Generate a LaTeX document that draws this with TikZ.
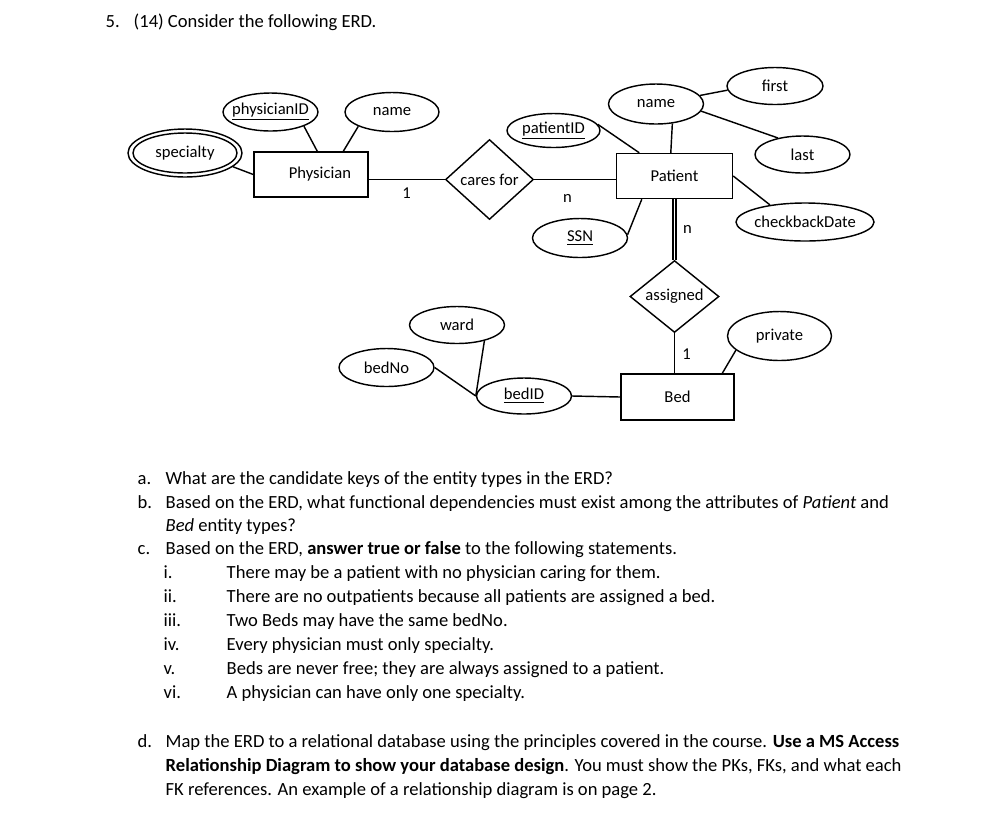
\documentclass[tikz,border=0pt]{standalone}
\usepackage{fontspec}
\setmainfont{Carlito}
\usetikzlibrary{shapes.geometric,calc}
\begin{document}
\begin{tikzpicture}[x=0.56pt,y=-0.56pt,line width=0.8pt,
  font=\fontsize{9.3}{11}\selectfont,
  attr/.style n args={3}{ellipse, draw, inner sep=0pt, minimum width=#1*0.56pt, minimum height=#2*0.56pt, label={center:#3}},
  ent/.style n args={3}{rectangle, draw, inner sep=0pt, minimum width=#1*0.56pt, minimum height=#2*0.56pt, label={center:#3}},
  rel/.style n args={3}{diamond, draw, inner sep=0pt, minimum width=#1*0.56pt, minimum height=#2*0.56pt, label={center:#3}},
  card/.style={inner sep=0pt},
  qtext/.style={anchor=base west, inner sep=0pt, font=\fontsize{10.4}{12.6}\selectfont},
  dbl/.style={double, double distance=1.1pt, line width=0.7pt}
]
\useasboundingbox[fill=white] (0,0) rectangle (1003,814);

% title
\node[qtext] (tnum) at (105,27) {5.};
\node[qtext] (ttxt) at (133,27) {(14) Consider the following ERD.};

% entities
\node[ent={114}{45}{\hspace*{10pt}Physician}] (phys) at (311,174.5) {};
\node[ent={116}{45}{Patient}] (pat) at (674.5,176) {};
\node[ent={113}{46}{Bed}] (bed) at (677.5,397) {};

% relationships
\node[rel={88}{80}{cares for}] (cares) at (489.5,179.5) {};
\node[rel={89}{72}{assigned}] (asg) at (674.5,296.5) {};

% physician attributes
\node[attr={95}{38}{\underline{physicianID}}] (pid) at (270.5,112) {};
\node[attr={94}{39}{name}] (phname) at (392,112) {};
\node[attr={114}{48}{}] (spec) at (185,153) {};
\node[attr={104}{40}{specialty}] (specin) at (185,153) {};

% patient attributes
\node[attr={95}{40}{name}] (ptname) at (656,104) {};
\node[attr={96}{37}{first}] (first) at (775,86) {};
\node[attr={95}{37}{last}] (last) at (802.5,154.5) {};
\node[attr={93}{34}{\underline{patientID}}] (ptid) at (553.5,130.5) {};
\node[attr={95}{39}{\underline{SSN}}] (ssn) at (580,238) {};
\node[attr={138}{38}{checkbackDate}] (cbd) at (805,222) {};

% bed attributes
\node[attr={104}{49}{private}] (priv) at (779.5,336) {};
\node[attr={95}{36}{\underline{bedID}}] (bedid) at (524,396) {};
\node[attr={95}{37}{ward}] (ward) at (457,325) {};
\node[attr={95}{38}{bedNo}] (bedno) at (386.5,367.5) {};

% connectors: physician
\draw (pid.-23) -- ($(phys.north west)+(64,0)$);
\draw (phname.-157) -- ($(phys.north west)+(90,0)$);
\draw (spec.-16) -- (phys.west);
\draw (phys.east |- cares.west) -- (cares.west);
\draw (cares.east) -- (cares.east -| pat.west);
\node[card] (c1) at (406.5,193) {1};
\node[card] (c2) at (567.5,198) {n};

% connectors: patient
\draw (ptname.-50) -- ($(pat.north west)+(55,0)$);
\draw (ptname.11) -- (first.-175);
\draw (ptname.-9) -- (last.146);
\draw (ptid.8) -- ($(pat.north west)+(23.5,0)$);
\draw (ssn.4) -- ($(pat.south west)+(26,0)$);
\draw (pat.east) -- (cbd.154);
\draw[dbl] (pat.south -| asg.north) -- (asg.north);
\node[card] (c3) at (687.5,229) {n};

% connectors: bed
\draw (asg.south) -- (asg.south |- bed.north);
\node[card] (c4) at (686.5,354.5) {1};
\draw (priv.-162) -- ($(bed.north west)+(102,0)$);
\draw (bedid.east) -- (bed.west);
\draw (ward.-30) -- (bedid.west);
\draw (bedno.east) -- (bedid.west);

% questions
\node[qtext] (la) at (137,484) {a.};
\node[qtext] (qa) at (165,484) {What are the candidate keys of the entity types in the ERD?};
\node[qtext] (lb) at (137,508) {b.};
\node[qtext] (qb) at (165,508) {Based on the ERD, what functional dependencies must exist among the attributes of \textit{Patient} and};
\node[qtext] (qb2) at (165,531) {\textit{Bed} entity types?};
\node[qtext] (lc) at (137,554) {c.};
\node[qtext] (qc) at (165,554) {Based on the ERD, \textbf{answer true or false} to the following statements.};
\node[qtext] (l1) at (163,578) {i.};
\node[qtext] (s1) at (226,578) {There may be a patient with no physician caring for them.};
\node[qtext] (l2) at (163,602) {ii.};
\node[qtext] (s2) at (226,602) {There are no outpatients because all patients are assigned a bed.};
\node[qtext] (l3) at (163,626) {iii.};
\node[qtext] (s3) at (226,626) {Two Beds may have the same bedNo.};
\node[qtext] (l4) at (163,650) {iv.};
\node[qtext] (s4) at (226,650) {Every physician must only specialty.};
\node[qtext] (l5) at (163,674) {v.};
\node[qtext] (s5) at (226,674) {Beds are never free; they are always assigned to a patient.};
\node[qtext] (l6) at (163,698) {vi.};
\node[qtext] (s6) at (226,698) {A physician can have only one specialty.};
\node[qtext] (ld) at (137,747) {d.};
\node[qtext] (qd) at (165,747) {Map the ERD to a relational database using the principles covered in the course. \textbf{Use a MS Access}};
\node[qtext] (qd2) at (165,771) {\textbf{Relationship Diagram to show your database design}. You must show the PKs, FKs, and what each};
\node[qtext] (qd3) at (165,795) {FK references. An example of a relationship diagram is on page 2.};
\end{tikzpicture}
\end{document}
